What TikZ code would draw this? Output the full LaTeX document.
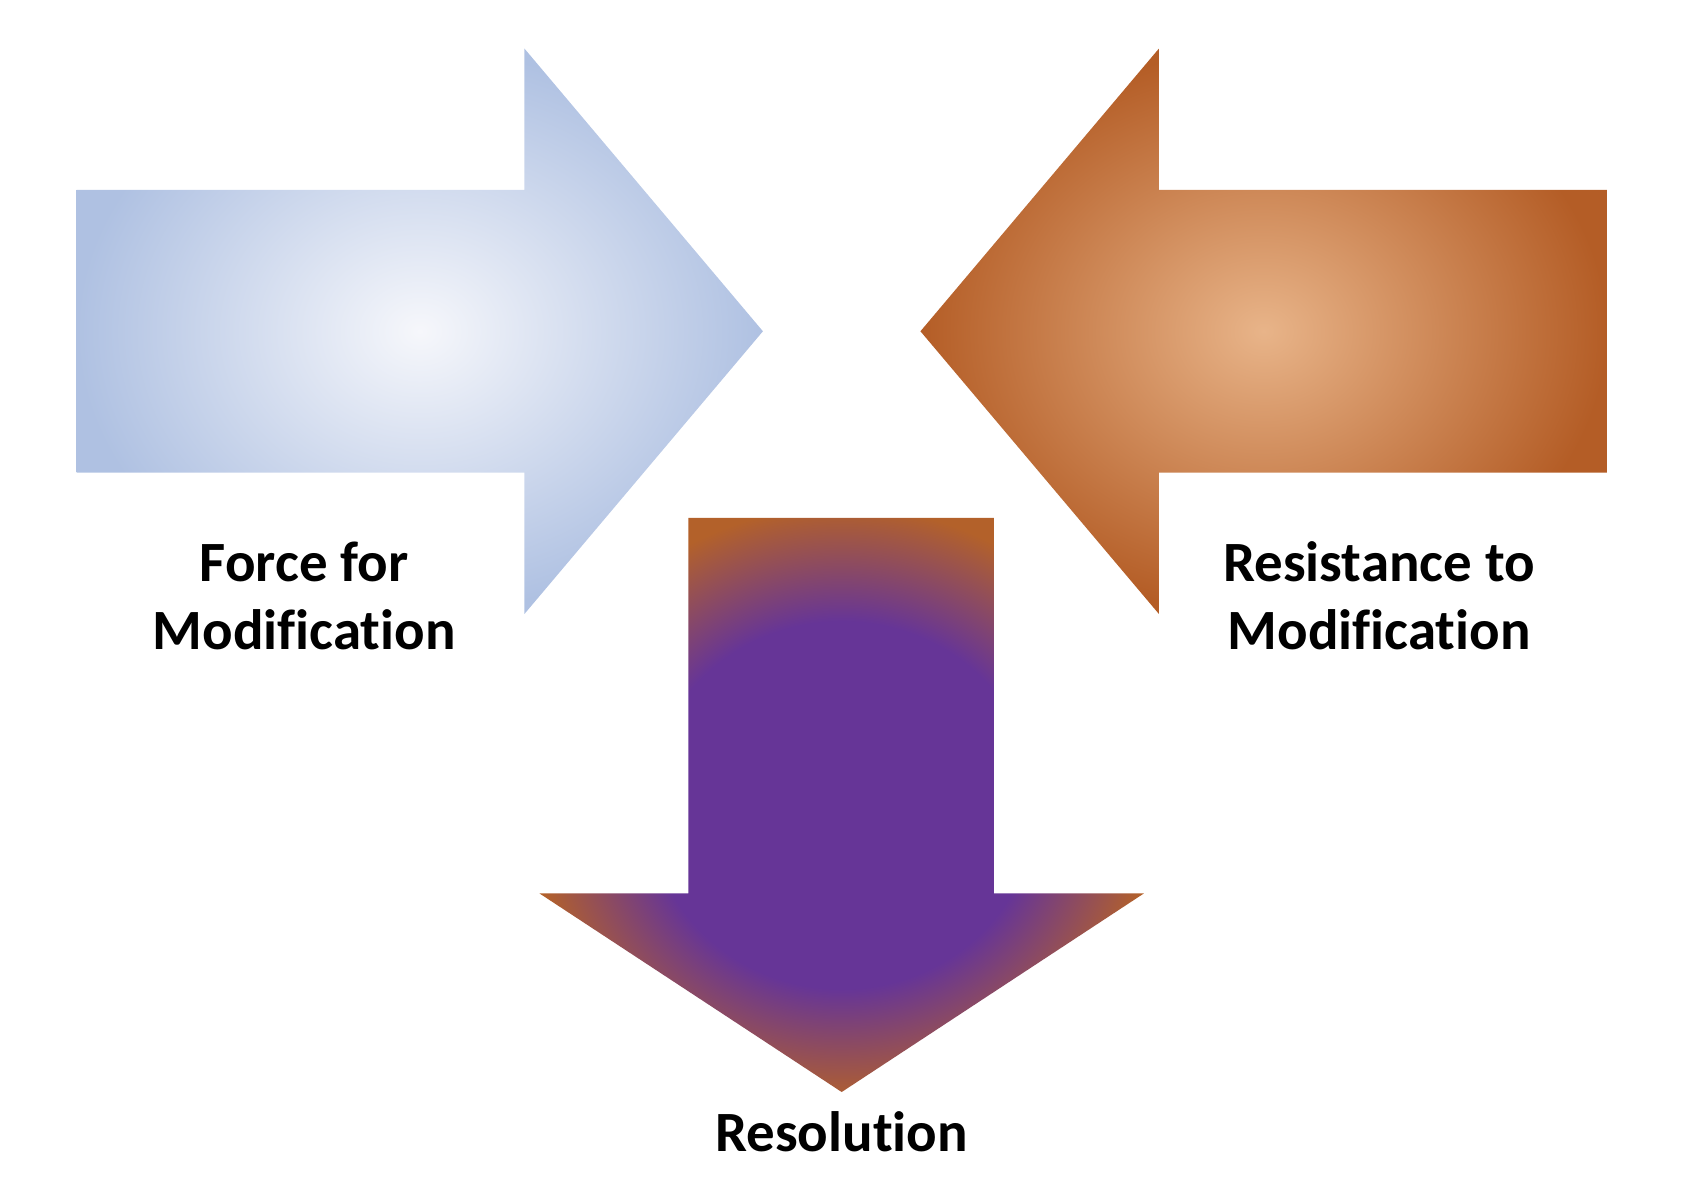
\documentclass[tikz,border=0pt]{standalone}
\usepackage{fontspec}
\setmainfont[Ligatures=NoCommon]{Carlito}
\definecolor{forceBlue}{HTML}{AFC1E2}
\definecolor{forceWhite}{HTML}{F6F7FB}
\definecolor{resistLight}{HTML}{E8B489}
\definecolor{resistDark}{HTML}{B45D26}
\definecolor{resolPurple}{HTML}{663597}
\definecolor{resolOrange}{HTML}{B3612A}
\pgfdeclareradialshading{resolshade}{\pgfpoint{0bp}{0bp}}{color(0bp)=(resolPurple);color(16bp)=(resolPurple);color(26bp)=(resolOrange);color(50bp)=(resolOrange)}
\begin{document}
\begin{tikzpicture}[x=.01cm,y=-.01cm,font=\fontsize{15}{18}\selectfont\bfseries]
\useasboundingbox(0,0)rectangle(1568,1097);
\shade[inner color=forceWhite,outer color=forceBlue](71,176)--(486,176)--(486,45)--(707,307)--(486,569)--(486,438)--(71,438)--cycle;
\shade[inner color=resistLight,outer color=resistDark](1489,176)--(1074,176)--(1074,45)--(853,307)--(1074,569)--(1074,438)--(1489,438)--cycle;
\shade[shading=resolshade](638,480)--(921,480)--(921,828)--(1060,828)--(780,1012)--(500,828)--(638,828)--cycle;
\node[align=center,inner sep=0](force)at(282,552){Force for\\Modification};
\node[align=center,inner sep=0](resist)at(1278,552){Resistance to\\Modification};
\node[inner sep=0](resol)at(780,1049){Resolution};
\end{tikzpicture}
\end{document}
